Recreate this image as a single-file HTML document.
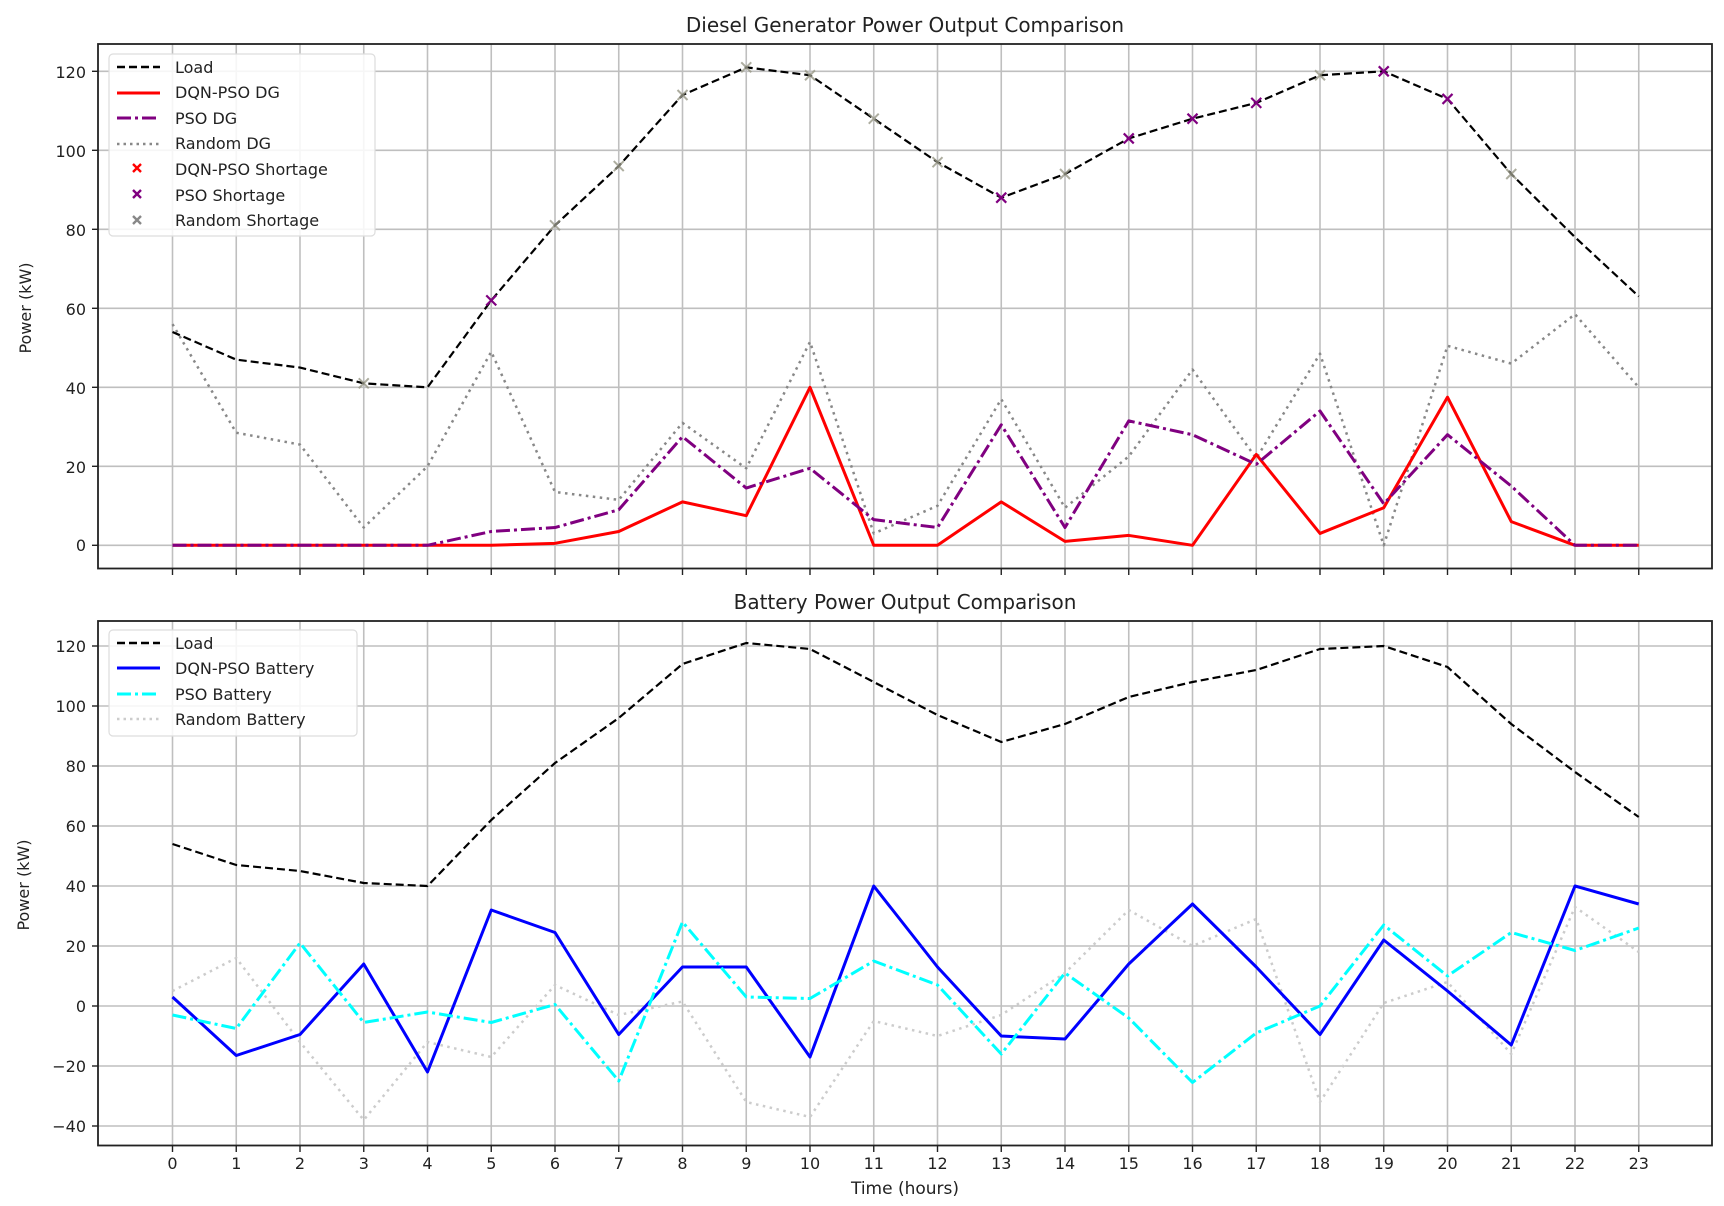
<!DOCTYPE html>
<html><head><meta charset="utf-8"><style>
html,body{margin:0;padding:0;background:#fff;}
svg{display:block;font-family:"DejaVu Sans","Liberation Sans",sans-serif;}
</style></head><body>
<svg id="s" width="1724" height="1206" viewBox="0 0 1724 1206" xmlns="http://www.w3.org/2000/svg">
<rect width="1724" height="1206" fill="#fff"/>
<g id="grid" stroke="#b0b0b0" stroke-width="1.6" opacity="0.8"></g>
<g id="series"></g>
<rect x="98" y="44" width="1614" height="524.5" fill="none" stroke="#222" stroke-width="1.8"/>
<rect x="98" y="621" width="1614" height="524.5" fill="none" stroke="#222" stroke-width="1.8"/>
<g id="ticks" stroke="#222" stroke-width="1.4"></g>
<g fill="#222" font-size="17" text-anchor="middle">
<text x="905" y="32" font-size="20">Diesel Generator Power Output Comparison</text>
<text x="905" y="609" font-size="20">Battery Power Output Comparison</text>
<text x="905" y="1194">Time (hours)</text>
<text transform="translate(31,308) rotate(-90)" font-size="16">Power (kW)</text>
<text transform="translate(29,885) rotate(-90)" font-size="16">Power (kW)</text>
</g>
<g fill="#222" font-size="16" text-anchor="end">
<text x="86" y="78">120</text><text x="86" y="157">100</text><text x="86" y="236">80</text>
<text x="86" y="315">60</text><text x="86" y="394">40</text><text x="86" y="473">20</text><text x="86" y="551">0</text>
<text x="86" y="652">120</text><text x="86" y="712">100</text><text x="86" y="772">80</text>
<text x="86" y="832">60</text><text x="86" y="892">40</text><text x="86" y="952">20</text><text x="86" y="1012">0</text>
<text x="86" y="1072">−20</text><text x="86" y="1132">−40</text>
</g>
<g fill="#222" font-size="16" text-anchor="middle">
<text x="172.5" y="1169">0</text><text x="236.3" y="1169">1</text><text x="300" y="1169">2</text><text x="363.8" y="1169">3</text>
<text x="427.5" y="1169">4</text><text x="491.3" y="1169">5</text><text x="555" y="1169">6</text><text x="618.8" y="1169">7</text>
<text x="682.5" y="1169">8</text><text x="746.3" y="1169">9</text><text x="810" y="1169">10</text><text x="873.8" y="1169">11</text>
<text x="937.5" y="1169">12</text><text x="1001.3" y="1169">13</text><text x="1065" y="1169">14</text><text x="1128.8" y="1169">15</text>
<text x="1192.5" y="1169">16</text><text x="1256.3" y="1169">17</text><text x="1320" y="1169">18</text><text x="1383.8" y="1169">19</text>
<text x="1447.5" y="1169">20</text><text x="1511.3" y="1169">21</text><text x="1575" y="1169">22</text><text x="1638.8" y="1169">23</text>
</g>
<rect x="109" y="54" width="266" height="182" rx="4" fill="#fff" fill-opacity="0.85" stroke="#ddd" stroke-width="1.2"/>
<g stroke-width="2.4" fill="none">
<line x1="117" y1="67" x2="160" y2="67" stroke="#000" stroke-dasharray="8,4"/>
<line x1="117" y1="93" x2="160" y2="93" stroke="#f00" stroke-width="3"/>
<line x1="117" y1="118" x2="160" y2="118" stroke="#800080" stroke-width="3" stroke-dasharray="14,4,3,4"/>
<line x1="117" y1="144" x2="160" y2="144" stroke="#888" stroke-dasharray="2.5,4"/>
<path d="M133 164l8 8M141 164l-8 8" stroke="#f00"/>
<path d="M133 190l8 8M141 190l-8 8" stroke="#800080"/>
<path d="M133 216l8 8M141 216l-8 8" stroke="#888"/>
</g>
<g fill="#222" font-size="16">
<text x="175" y="73">Load</text><text x="175" y="98">DQN-PSO DG</text><text x="175" y="124">PSO DG</text>
<text x="175" y="149">Random DG</text><text x="175" y="175">DQN-PSO Shortage</text><text x="175" y="201">PSO Shortage</text>
<text x="175" y="226">Random Shortage</text>
</g>
<rect x="109" y="630" width="248" height="106" rx="4" fill="#fff" fill-opacity="0.85" stroke="#ddd" stroke-width="1.2"/>
<g stroke-width="2.4" fill="none">
<line x1="117" y1="643" x2="160" y2="643" stroke="#000" stroke-dasharray="8,4"/>
<line x1="117" y1="668" x2="160" y2="668" stroke="#00f" stroke-width="3"/>
<line x1="117" y1="694" x2="160" y2="694" stroke="#0ff" stroke-width="3" stroke-dasharray="14,4,3,4"/>
<line x1="117" y1="719" x2="160" y2="719" stroke="#ccc" stroke-dasharray="2.5,4"/>
</g>
<g fill="#222" font-size="16">
<text x="175" y="649">Load</text><text x="175" y="674">DQN-PSO Battery</text><text x="175" y="700">PSO Battery</text><text x="175" y="725">Random Battery</text>
</g>
</svg>
<script>
var NS="http://www.w3.org/2000/svg";
function X(i){return 172.5+i*63.75;}
function YT(v){return 545.3-v*3.95;}
function YB(v){return 1006-v*3.0;}
function el(p,tag,a){var e=document.createElementNS(NS,tag);for(var k in a)e.setAttribute(k,a[k]);p.appendChild(e);return e;}
var g=document.getElementById('grid'),t=document.getElementById('ticks'),s=document.getElementById('series');
for(var i=0;i<24;i++){var x=X(i);
 el(g,'line',{x1:x,y1:44,x2:x,y2:568.5});el(g,'line',{x1:x,y1:621,x2:x,y2:1145.5});
 el(t,'line',{x1:x,y1:568.5,x2:x,y2:575});el(t,'line',{x1:x,y1:1145.5,x2:x,y2:1152});}
for(var v=0;v<=120;v+=20){var y=YT(v);el(g,'line',{x1:98,y1:y,x2:1712,y2:y});el(t,'line',{x1:92,y1:y,x2:98,y2:y});}
for(var v=-40;v<=120;v+=20){var y=YB(v);el(g,'line',{x1:98,y1:y,x2:1712,y2:y});el(t,'line',{x1:92,y1:y,x2:98,y2:y});}
function line(d,Y,a){var p=d.map(function(v,i){return X(i)+','+Y(v)}).join(' ');a.points=p;a.fill='none';a['stroke-linejoin']='round';el(s,'polyline',a);}
var load=[54,47,45,41,40,62,81,96,114,121,119,108,97,88,94,103,108,112,119,120,113,94,78,63];
var rdg=[56,28.5,25.5,4.5,20,49,13.5,11.5,31,19.5,51.5,3,10,37,9.5,22.5,44.5,22,48.5,0,50.5,46,58.5,40];
var pdg=[0,0,0,0,0,3.5,4.5,9,27.5,14.5,19.5,6.5,4.5,30.5,4.5,31.5,28,20.5,34,10.5,28,15,0,0];
var ddg=[0,0,0,0,0,0,0.5,3.5,11,7.5,40,0,0,11,1,2.5,0,23,3,9.5,37.5,6,0,0];
line(rdg,YT,{stroke:'#888','stroke-width':2.5,'stroke-dasharray':'2.5,4.5'});
line(ddg,YT,{stroke:'#f00','stroke-width':3});
line(pdg,YT,{stroke:'#800080','stroke-width':3,'stroke-dasharray':'14,4,3,4'});
line(load,YT,{stroke:'#000','stroke-width':2.2,'stroke-dasharray':'8,4'});
var gray=[3,6,7,8,9,10,11,12,14,18,21],pur=[5,13,15,16,17,19,20];
gray.forEach(function(i){var x=X(i),y=YT(load[i]);el(s,'path',{d:'M'+(x-5)+' '+(y-5)+'l10 10M'+(x+5)+' '+(y-5)+'l-10 10',stroke:'#998',"stroke-width":2,opacity:0.8});});
pur.forEach(function(i){var x=X(i),y=YT(load[i]);el(s,'path',{d:'M'+(x-5)+' '+(y-5)+'l10 10M'+(x+5)+' '+(y-5)+'l-10 10',stroke:'#800080',"stroke-width":2.2});});
var db=[3,-16.5,-9.5,14,-22,32,24.5,-9.5,13,13,-17,40,13,-10,-11,14,34,13,-9.5,22,5,-13,40,34];
var pb=[-3,-7.5,21,-5.5,-2,-5.5,0.5,-25,28,3,2.5,15,7,-16,11,-4,-25.5,-9,0,27,10,24.5,18.5,26];
var rb=[5,16,-12,-38,-12,-17,7,-3,1.5,-32,-37,-5,-10,-3,11,32,20,29,-32,1,8,-16,33,18];
line(rb,YB,{stroke:'#ccc','stroke-width':2.5,'stroke-dasharray':'2.5,4.5'});
line(db,YB,{stroke:'#00f','stroke-width':3});
line(pb,YB,{stroke:'#0ff','stroke-width':3,'stroke-dasharray':'14,4,3,4'});
line(load,YB,{stroke:'#000','stroke-width':2.2,'stroke-dasharray':'8,4'});
</script>
</body></html>
